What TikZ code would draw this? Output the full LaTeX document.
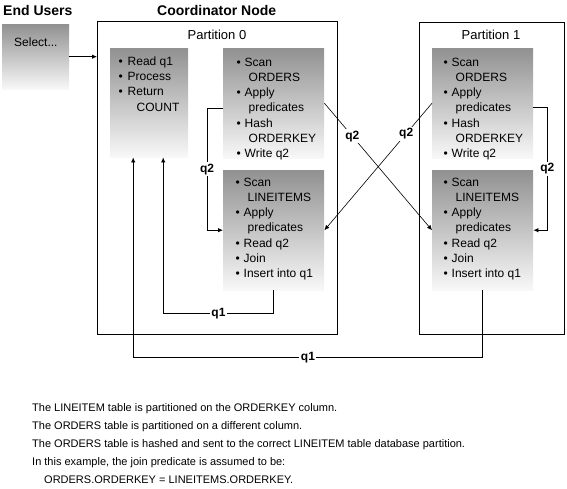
\documentclass[tikz,border=0pt]{standalone}
\usepackage{fontspec}
\setmainfont{Liberation Sans}
\usetikzlibrary{arrows.meta,calc}
\newcommand\bl{\makebox[8pt][l]{\textbullet}}
\newcommand\ct{\hspace*{12pt}}
\newcommand\blw{\makebox[9pt][l]{\textbullet}}
\newcommand\ctw{\hspace*{18pt}}
\begin{document}
\begin{tikzpicture}[x=1pt,y=-1pt,
  box/.style={rectangle, inner sep=0pt, anchor=north west,
    top color={rgb,255:red,145;green,145;blue,145},
    bottom color={rgb,255:red,248;green,248;blue,248}},
  part/.style={rectangle, draw, line width=0.9pt, inner sep=0pt, anchor=north west},
  lst/.style={anchor=north west, inner sep=0pt, align=left, font=\fontsize{12}{15.3}\selectfont},
  head/.style={anchor=west, inner sep=0pt, font=\bfseries\fontsize{14}{16}\selectfont},
  plab/.style={inner sep=0pt, font=\fontsize{13}{15}\selectfont},
  lab/.style={fill=white, inner sep=1.5pt, font=\bfseries\fontsize{12}{14}\selectfont},
  conn/.style={line width=0.8pt, -{Latex[length=5pt,width=4.5pt]}},
  xconn/.style={line width=0.6pt, -{Latex[length=5pt,width=4.5pt]}}]
\useasboundingbox (0,0) rectangle (567,488);

% headings
\node[head] (hEU) at (3,10) {End Users};
\node[head] (hCN) at (157,10) {Coordinator Node};

% end user box
\node[box, minimum width=67pt, minimum height=65pt] (sel) at (2,24) {};
\node[anchor=west, inner sep=0pt, font=\fontsize{12}{14}\selectfont] (selt) at (14,42) {Select...};

% partitions
\node[part, minimum width=240pt, minimum height=313pt] (p0) at (97,21) {};
\node[part, minimum width=145pt, minimum height=312pt] (p1) at (419,22) {};
\node[plab] (p0l) at (217,35) {Partition 0};
\node[plab] (p1l) at (491,35) {Partition 1};

% inner boxes
\node[box, minimum width=78pt, minimum height=109pt] (bA) at (110,48) {};
\node[box, minimum width=101pt, minimum height=110pt] (bB) at (223,48) {};
\node[box, minimum width=101pt, minimum height=120pt] (bC) at (223,170) {};
\node[box, minimum width=101pt, minimum height=110pt] (bD) at (432,48) {};
\node[box, minimum width=101pt, minimum height=120pt] (bE) at (432,170) {};

\node[lst] (tA) at (118.5,56.5) {\blw Read q1\\ \blw Process\\ \blw Return\\ \ctw COUNT};
\node[lst] (tB) at (236.5,57.5) {\bl Scan\\ \ct ORDERS\\ \bl Apply\\ \ct predicates\\ \bl Hash\\ \ct ORDERKEY\\ \bl Write q2};
\node[lst] (tC) at (235.5,177.5) {\bl Scan\\ \ct LINEITEMS\\ \bl Apply\\ \ct predicates\\ \bl Read q2\\ \bl Join\\ \bl Insert into q1};
\node[lst] (tD) at (443.5,57.5) {\bl Scan\\ \ct ORDERS\\ \bl Apply\\ \ct predicates\\ \bl Hash\\ \ct ORDERKEY\\ \bl Write q2};
\node[lst] (tE) at (443.5,177.5) {\bl Scan\\ \ct LINEITEMS\\ \bl Apply\\ \ct predicates\\ \bl Read q2\\ \bl Join\\ \bl Insert into q1};

% connectors
\draw[conn] (sel.east) -- (sel.east -| p0.west);
\draw[conn] ($(bB.west)+(0,5)$) -- ++(-16,0) |- node[lab, pos=0.25] (l1) {q2} (bC.west);
\draw[conn] ($(bD.east)+(0,4)$) -- ++(14,0) |- node[lab, pos=0.25] (l2) {q2} (bE.east);
\draw[xconn] (bB.east) -- node[lab, pos=0.26] (l3) {q2} (bE.west);
\draw[xconn] (bD.west) -- node[lab, pos=0.24] (l4) {q2} (bC.east);
\draw[conn] (bC.south) -- ++(0,23) -| node[lab, pos=0.25] (l5) {q1} ($(bA.south)+(14,0)$);
\draw[conn] (bE.south) -- ++(0,67) -| node[lab, pos=0.25] (l6) {q1} ($(bA.south)+(-16,0)$);

% caption
\node[anchor=north west, inner sep=0pt, align=left, font=\fontsize{11}{18.2}\selectfont] (cap) at (32,403)
{The LINEITEM table is partitioned on the ORDERKEY column.\\
The ORDERS table is partitioned on a different column.\\
The ORDERS table is hashed and sent to the correct LINEITEM table database partition.\\
In this example, the join predicate is assumed to be:\\
\hspace*{12pt}ORDERS.ORDERKEY = LINEITEMS.ORDERKEY.};
\end{tikzpicture}
\end{document}
